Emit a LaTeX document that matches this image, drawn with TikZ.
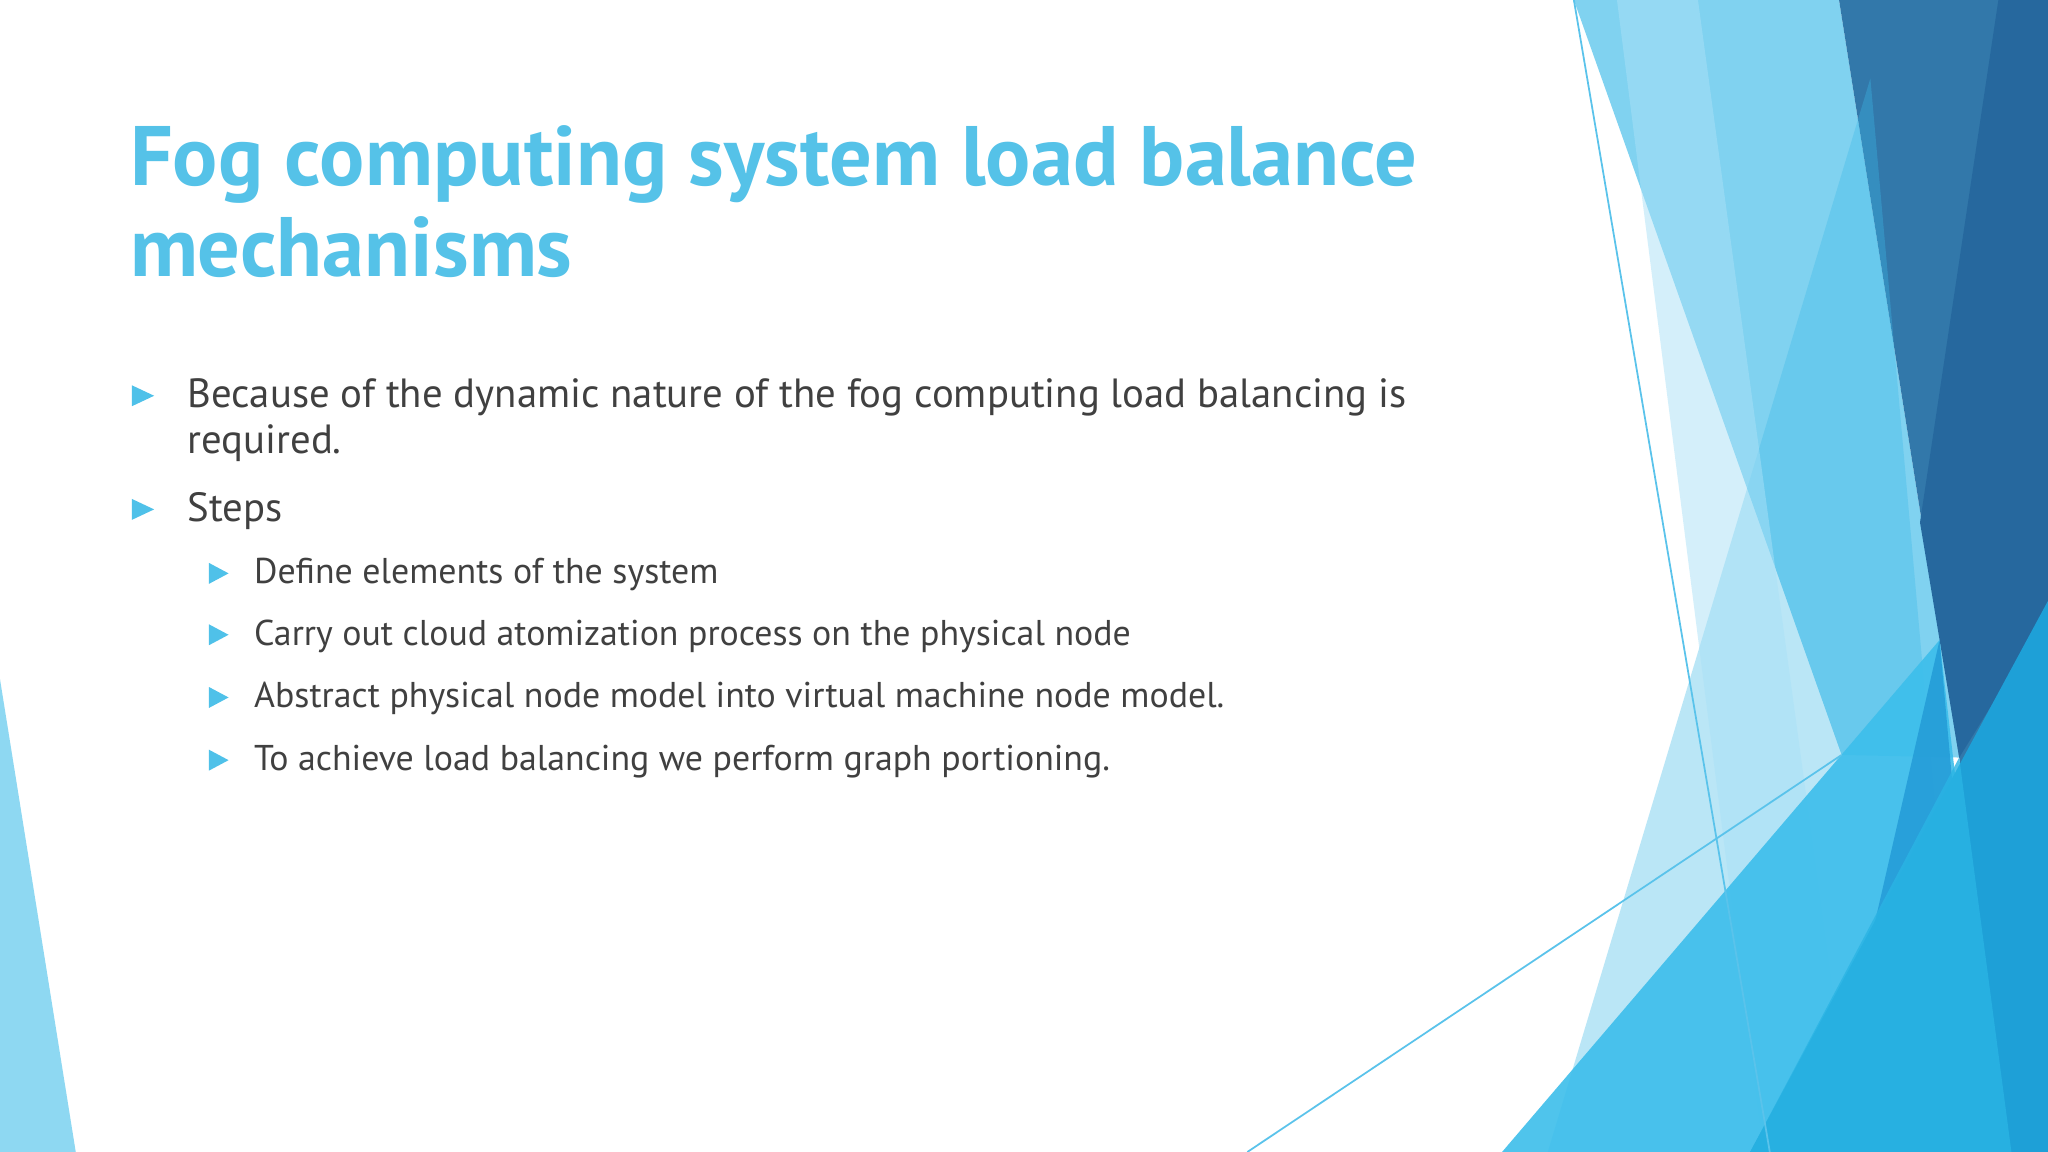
\documentclass[tikz,border=0pt]{standalone}
\usepackage{fontspec}
\setmainfont{PT Sans}
\definecolor{ttl}{HTML}{55C2E8}
\definecolor{body}{HTML}{404040}
\definecolor{bul}{HTML}{4FC1E9}
\begin{document}
\begin{tikzpicture}[x=0.013061cm,y=-0.013061cm,
  tline/.style={text=ttl,font=\bfseries\fontsize{24}{28}\selectfont,anchor=base west,inner sep=0},
  l1/.style={text=body,font=\fontsize{11.6}{14}\selectfont,anchor=base west,inner sep=0},
  l2/.style={text=body,font=\fontsize{10.2}{12}\selectfont,anchor=base west,inner sep=0},
  bl/.style={fill=bul,draw=none}]
\useasboundingbox (0,0) rectangle (1568,882);
\fill[white] (0,0) rectangle (1568,882);
% left strip
\fill[color={rgb,255:red,142;green,216;blue,242}] (0,520) -- (58,882) -- (0,882) -- cycle;
% right decoration
\fill[color={rgb,255:red,128;green,210;blue,240}] (1205,0) -- (1408,0) -- (1500,580) -- (1410,578) -- cycle;
\fill[color={rgb,255:red,50;green,120;blue,170}] (1408,0) -- (1568,0) -- (1568,882) -- (1545,882) -- (1500,580) -- cycle;
\fill[color={rgb,255:red,38;green,104;blue,158}] (1530,0) -- (1568,0) -- (1568,470) -- (1500,580) -- (1470,400) -- cycle;
\fill[color={rgb,255:red,60;green,185;blue,232},opacity=0.35] (1432,60) -- (1185,882) -- (1505,882) -- cycle;
\fill[color={rgb,255:red,170;green,225;blue,247},opacity=0.5] (1238,0) -- (1300,0) -- (1420,882) -- (1350,882) -- cycle;
\fill[color={rgb,255:red,60;green,190;blue,235},opacity=0.9] (1150,882) -- (1485,490) -- (1530,882) -- cycle;
\fill[color={rgb,255:red,35;green,155;blue,215},opacity=0.85] (1430,730) -- (1485,490) -- (1520,882) -- (1400,882) -- cycle;
\fill[color={rgb,255:red,30;green,160;blue,215}] (1340,882) -- (1568,460) -- (1568,882) -- cycle;
\fill[color={rgb,255:red,42;green,180;blue,228},opacity=0.8] (1340,882) -- (1500,580) -- (1540,882) -- cycle;
\coordinate (a1) at (1205,0); \coordinate (a2) at (1355,882);
\coordinate (b1) at (955,882); \coordinate (b2) at (1410,578);
\draw[color={rgb,255:red,90;green,195;blue,235},line width=0.5pt] (a1) -- (a2);
\draw[color={rgb,255:red,90;green,195;blue,235},line width=0.5pt] (b1) -- (b2);
% title
\node[tline] (t1) at (99,142) {Fog computing system load balance};
\node[tline] (t2) at (99,212) {mechanisms};
% bullets
\fill[bl] (101,295) -- (118,303) -- (101,311) -- cycle;
\node[l1] (p1) at (143,312) {Because of the dynamic nature of the fog computing load balancing is};
\node[l1] (p1b) at (143,347) {required.};
\fill[bl] (101,382) -- (118,390) -- (101,398) -- cycle;
\node[l1] (p2) at (143,399) {Steps};
\foreach \yy/\tt/\nm in {439/Define elements of the system/s1,486/Carry out cloud atomization process on the physical node/s2,534/Abstract physical node model into virtual machine node model./s3,582/To achieve load balancing we perform graph portioning./s4}{
  \fill[bl] (160,\yy-8) -- (175,\yy) -- (160,\yy+8) -- cycle;
  \node[l2] (\nm) at (194,\yy+8) {\tt};
}
\end{tikzpicture}
\end{document}
